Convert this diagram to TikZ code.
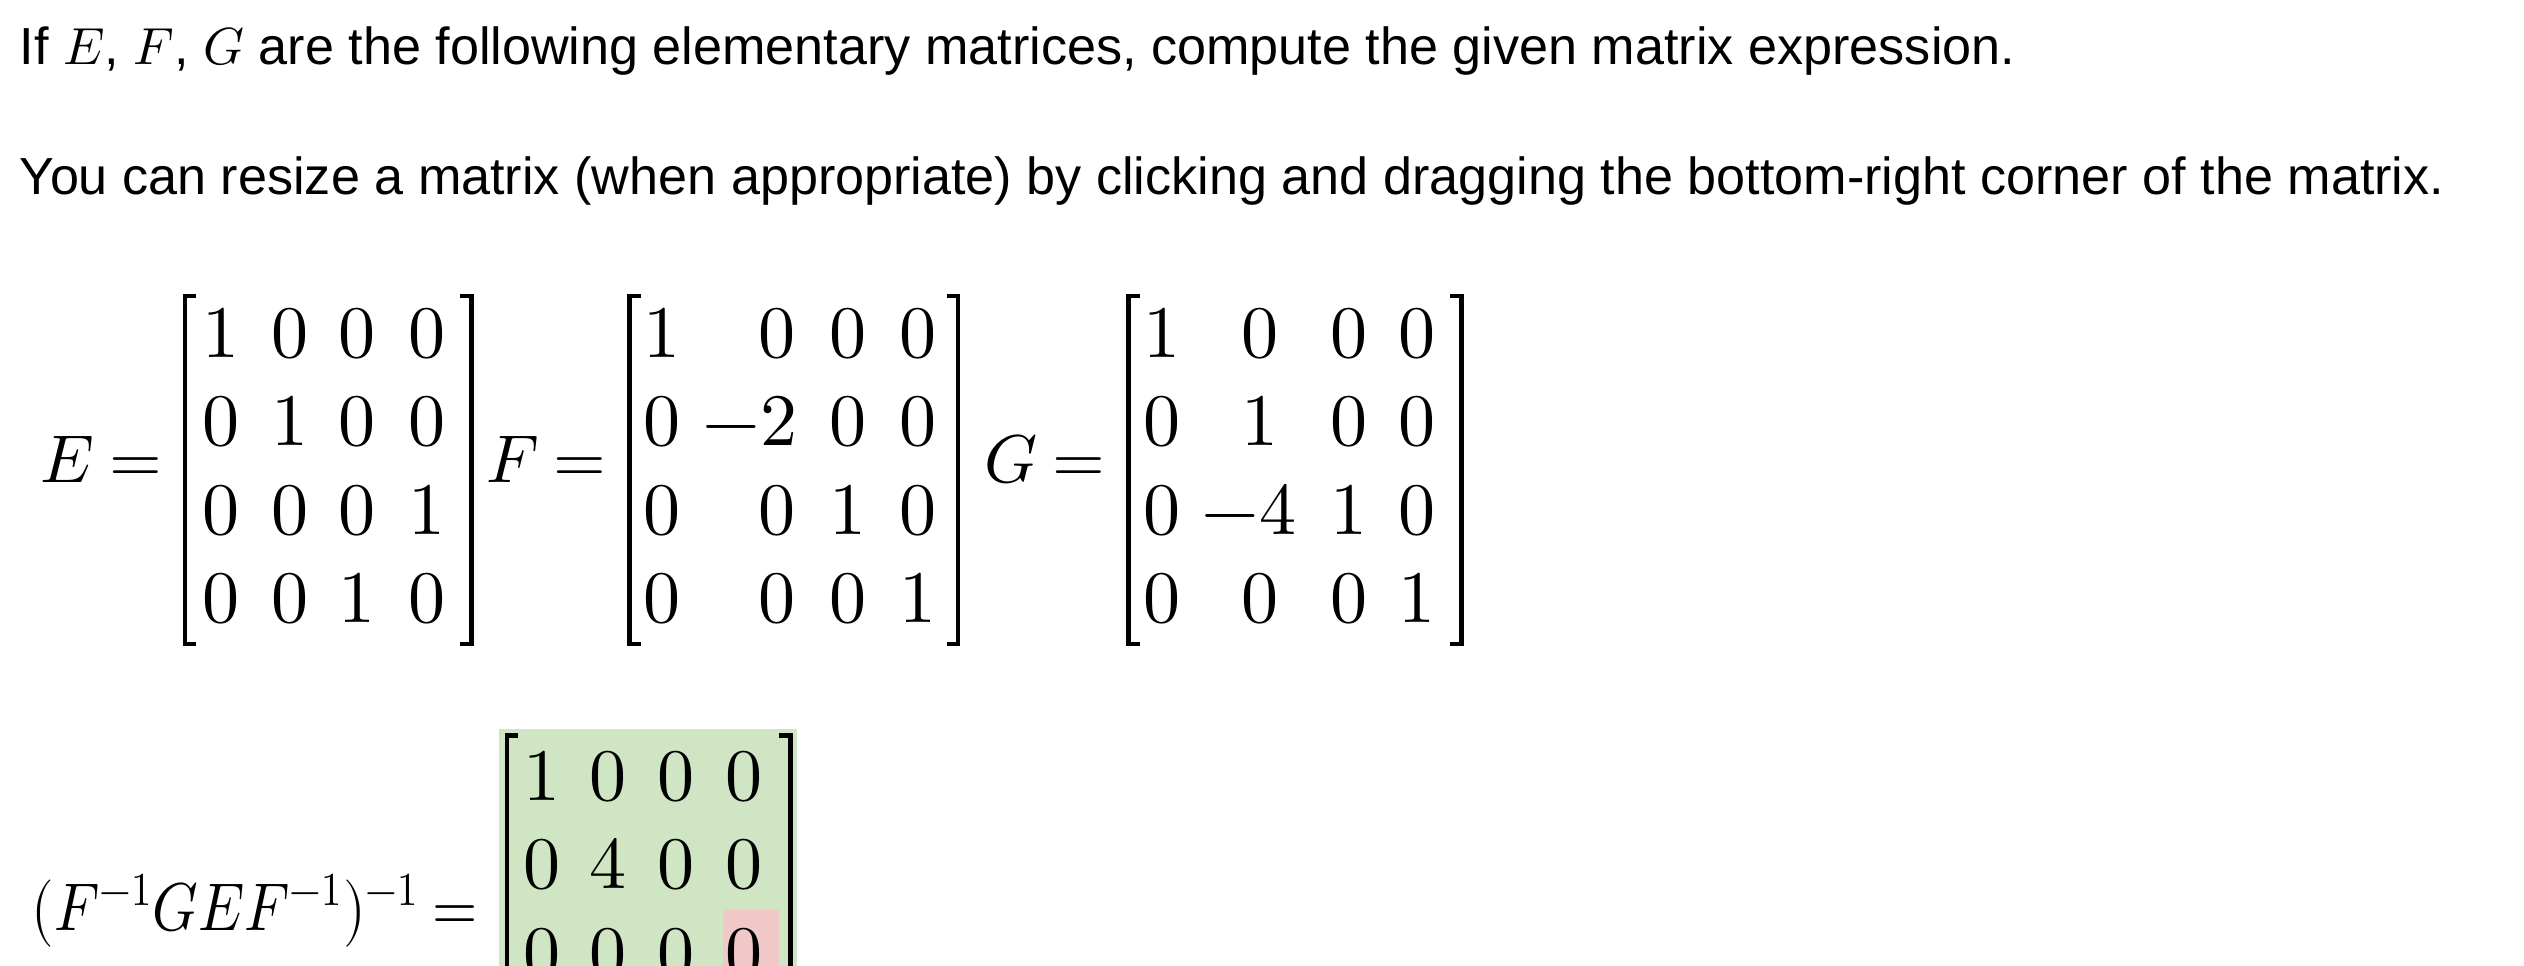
\documentclass[tikz,border=0pt]{standalone}
\usepackage{fontspec}
\setmainfont{Liberation Sans}
\usepackage{unicode-math}
\setmathfont{Latin Modern Math}
\begin{document}
\begin{tikzpicture}[x=0.5pt,y=-0.5pt,
  txt/.style={anchor=base west,inner sep=0pt,font=\fontsize{16.2}{19}\selectfont},
  ent/.style={anchor=base,inner sep=0pt,font=\fontsize{23}{26}\selectfont},
  lbl/.style={anchor=base east,inner sep=0pt,font=\fontsize{21}{24}\selectfont},
  brk/.style={line width=1.4pt}]
\useasboundingbox (0,0) rectangle (1568,600);
\clip (0,0) rectangle (1568,600);
\node[txt] (t1) at (12,40) {If $E$, $F$, $G$ are the following elementary matrices, compute the given matrix expression.};
\node[txt] (t2) at (12,121) {You can resize a matrix (when appropriate) by clicking and dragging the bottom-right corner of the matrix.};
\newcommand{\mybrk}[4]{%
  \draw[brk] (#1+7,#3) -- (#1,#3) -- (#1,#4) -- (#1+7,#4);
  \draw[brk] (#2-7,#3) -- (#2,#3) -- (#2,#4) -- (#2-7,#4);}
\newcommand{\eqq}{\mkern4mu{=}}
% E
\node[lbl] (Eq) at (101,300) {$E\eqq$};
\mybrk{115}{293}{184}{400}
\foreach \r/\a/\b/\c/\d [count=\i] in {222/1/0/0/0,277/0/1/0/0,332/0/0/0/1,387/0/0/1/0}{
  \node[ent] (e\i a) at (137,\r) {$\a$};
  \node[ent] (e\i b) at (180,\r) {$\b$};
  \node[ent] (e\i c) at (222,\r) {$\c$};
  \node[ent] (e\i d) at (265,\r) {$\d$};}
% F
\node[lbl] (Fq) at (377,300) {$F\eqq$};
\mybrk{391}{595}{184}{400}
\foreach \r/\a/\b/\c/\d [count=\i] in {222/1/0/0/0,277/0/{}/0/0,332/0/0/1/0,387/0/0/0/1}{
  \node[ent] (f\i a) at (411,\r) {$\a$};
  \node[ent] (f\i b) at (483,\r) {$\b$};
  \node[ent] (f\i c) at (527,\r) {$\c$};
  \node[ent] (f\i d) at (570,\r) {$\d$};}
\node[ent] (fm) at (466,277) {$-2$};
% G
\node[lbl] (Gq) at (687,300) {$G\eqq$};
\mybrk{701}{908}{184}{400}
\foreach \r/\a/\b/\c/\d [count=\i] in {222/1/0/0/0,277/0/1/0/0,332/0/{}/1/0,387/0/0/0/1}{
  \node[ent] (g\i a) at (722,\r) {$\a$};
  \node[ent] (g\i b) at (783,\r) {$\b$};
  \node[ent] (g\i c) at (838,\r) {$\c$};
  \node[ent] (g\i d) at (880,\r) {$\d$};}
\node[ent] (gm) at (776,332) {$-4$};
% answer
\node[lbl] (Aq) at (297,578) {\scalebox{0.86}[1]{$(F^{-1}GEF^{-1})^{-1}\eqq$}};
\fill[fill={rgb,255:red,208;green,229;blue,195}] (310,453) rectangle (495,620);
\fill[fill={rgb,255:red,240;green,200;blue,200}] (449,565) rectangle (484,620);
\mybrk{315}{491}{457}{640}
\foreach \r/\a/\b/\c/\d [count=\i] in {497/1/0/0/0,552/0/4/0/0,607/0/0/0/0}{
  \node[ent] (a\i a) at (337,\r) {$\a$};
  \node[ent] (a\i b) at (378,\r) {$\b$};
  \node[ent] (a\i c) at (420,\r) {$\c$};
  \node[ent] (a\i d) at (462,\r) {$\d$};}
\end{tikzpicture}
\end{document}
